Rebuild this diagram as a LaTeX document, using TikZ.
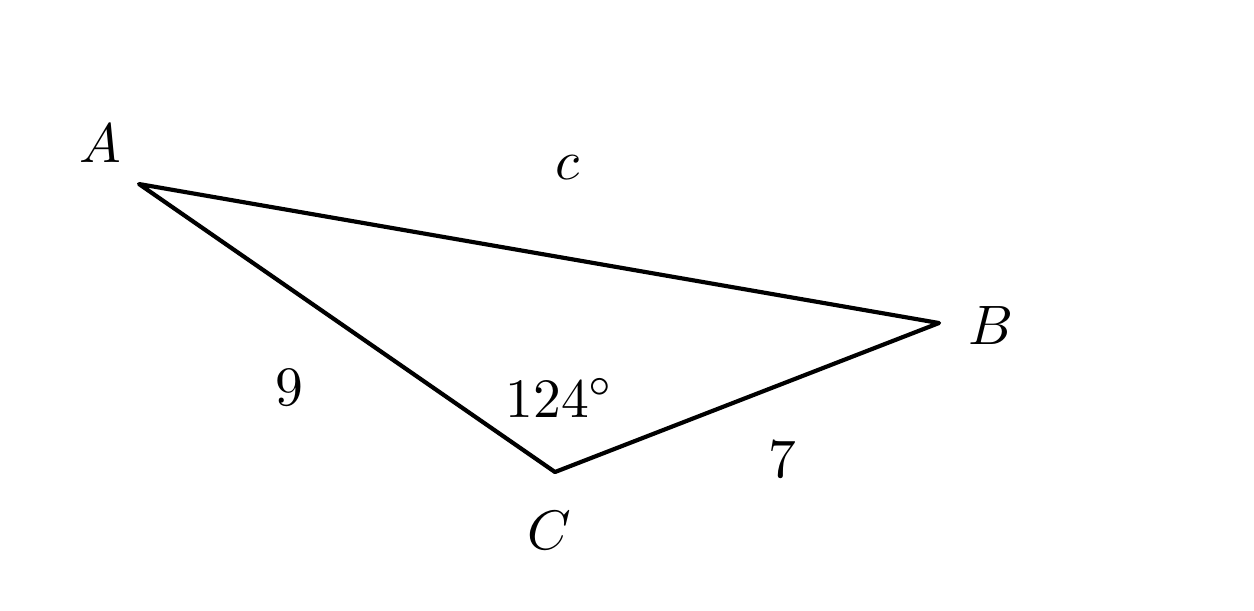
\documentclass[tikz,border=0pt]{standalone}
\begin{document}
\begin{tikzpicture}[x=0.18pt,y=-0.18pt,
  edge/.style={line width=0.75pt,line join=round},
  lbl/.style={inner sep=0pt}]
\useasboundingbox (0,0) rectangle (1254,610);
\coordinate (A) at (139,184);
\coordinate (B) at (939,323);
\coordinate (C) at (555,472);
\draw[edge] (A) -- (B) -- (C) -- cycle;
\node[lbl] (la) at (100,143) {$A$};
\node[lbl] (lb) at (991,325) {$B$};
\node[lbl] (lc) at (549,530) {$C$};
\node[lbl] (sc) at (568,168) {$c$};
\node[lbl] (s9) at (289,388) {$9$};
\node[lbl] (s7) at (782,460) {$7$};
\node[lbl] (ang) at (560,398) {$124^\circ$};
\end{tikzpicture}
\end{document}
